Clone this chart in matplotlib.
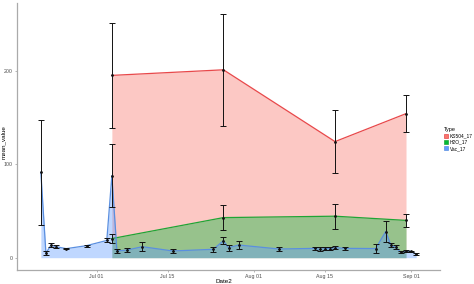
import matplotlib
matplotlib.use("Agg")
import matplotlib.pyplot as plt
import matplotlib.dates as mdates
from matplotlib.patches import Patch
import numpy as np
import pandas as pd

plt.rcParams["font.family"] = ["Liberation Sans", "DejaVu Sans"]

# Datos (2017)
vac_dates = ["06-20", "06-21", "06-22", "06-23", "06-25", "06-29", "07-03", "07-04",
             "07-05", "07-07", "07-10", "07-16", "07-24", "07-26", "07-27", "07-29",
             "08-06", "08-13", "08-14", "08-15", "08-16", "08-17", "08-19", "08-25",
             "08-27", "08-28", "08-29", "08-30", "08-31", "09-01", "09-02"]
vac_mean = [91.5, 4.7, 13.6, 11.8, 9.7, 12.9, 18.5, 88.0, 7.2, 8.2, 11.8, 7.2, 9.0, 18.2,
            10.7, 13.6, 9.3, 10.0, 9.0, 9.7, 9.7, 10.7, 10.0, 9.8, 28.0, 13.6, 11.1, 5.8,
            7.2, 6.7, 4.0]
vac_err = [56, 2, 2.5, 1.5, 0.8, 1, 2.2, 34, 2.5, 2, 5, 2, 2.5, 4, 3, 4, 2.5, 2, 2,
           1.5, 1.5, 1.5, 2, 4.5, 11, 2.5, 2, 1, 0.8, 0.8, 1.5]

ks_dates = ["07-04", "07-26", "08-17", "08-31"]
ks_mean = [195.5, 201.5, 124.5, 154.5]
ks_err = [56, 60, 33.5, 20]

h2o_dates = ["07-04", "07-26", "08-17", "08-31"]
h2o_mean = [20.5, 43.0, 44.5, 40.0]
h2o_err = [5, 13.7, 13.4, 6.7]

series = [
    ("KS504_17", ks_dates, ks_mean, ks_err, "#F8766D", "#E8484A"),
    ("H2O_17", h2o_dates, h2o_mean, h2o_err, "#00BA38", "#1FA535"),
    ("Vac_17", vac_dates, vac_mean, vac_err, "#619CFF", "#5A8FE0"),
]

fig = plt.figure(figsize=(4.74, 2.84), dpi=100)
ax = fig.add_axes([0.0359, 0.0493, 0.8924, 0.9397])

handles = []
for name, dates, mean, err, fill, line in series:
    x = pd.to_datetime(["2017-" + d for d in dates])
    ax.fill_between(x, 0, mean, color=fill, alpha=0.4, linewidth=0)
    ax.plot(x, mean, color=line, linewidth=0.9)
    handles.append(Patch(facecolor=fill, edgecolor=line, linewidth=0.5, label=name))

for name, dates, mean, err, fill, line in series:
    x = pd.to_datetime(["2017-" + d for d in dates])
    ax.errorbar(x, mean, yerr=err, fmt="none", ecolor="#111111", elinewidth=0.7,
                capsize=2.4, capthick=0.7)
    ax.scatter(x, mean, s=1.0, color="#111111", zorder=5)

# Ejes
start = pd.Timestamp("2017-07-01")
ax.set_xlim(start - pd.Timedelta(days=15.7), start + pd.Timedelta(days=67.7))
ax.set_ylim(-13.2, 273)
ax.set_xticks(pd.to_datetime(["2017-07-01", "2017-07-15", "2017-08-01", "2017-08-15", "2017-09-01"]))
ax.xaxis.set_major_formatter(mdates.DateFormatter("%b %d"))
ax.set_yticks([0, 100, 200])
ax.tick_params(labelsize=3.8, length=1.5, width=0.5, colors="#999999", labelcolor="#4D4D4D", pad=1.5)
for side in ["top", "right"]:
    ax.spines[side].set_visible(False)
for side in ["left", "bottom"]:
    ax.spines[side].set_color("#AAAAAA")
    ax.spines[side].set_linewidth(0.9)
ax.set_xlabel("Date2", fontsize=4.5)
ax.set_ylabel("mean_value", fontsize=4.5)
ax.xaxis.set_label_coords(0.49, -0.034)
ax.yaxis.set_label_coords(-0.027, 0.48)

fig.legend(handles=handles, title="Type", loc="upper left", bbox_to_anchor=(0.932, 0.56),
           fontsize=3.5, title_fontsize=4, frameon=False, handlelength=0.8, handleheight=0.8,
           handletextpad=0.4, labelspacing=0.25, borderpad=0, alignment="left")

fig.savefig("out.png", dpi=100)
